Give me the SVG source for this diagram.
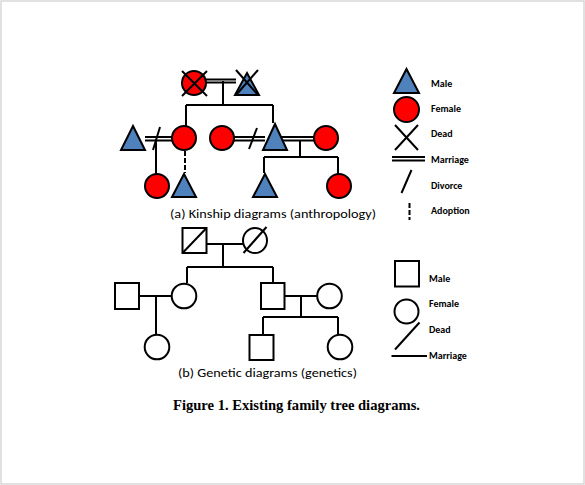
<svg xmlns="http://www.w3.org/2000/svg" width="585" height="485" viewBox="0 0 585 485">
<style>
.s{stroke:#000;stroke-width:2;fill:none}
.m{fill:#4F81BD;stroke:#000;stroke-width:2}
.f{fill:#FF0000;stroke:#000;stroke-width:2}
.w{fill:#fff;stroke:#000;stroke-width:2}
.ad{stroke-dasharray:5,2}
.lbl{font-family:Calibri,Carlito,"Open Sans","Liberation Sans",sans-serif;font-size:10px;font-weight:bold;fill:#000}
.cap{font-family:Carlito,Calibri,"Open Sans","Liberation Sans",sans-serif;font-size:13px;fill:#000}
.fig{font-family:"Liberation Serif","Times New Roman",serif;font-size:14px;font-weight:bold;fill:#000}
</style>
<rect x="1" y="1" width="583" height="483" fill="#fff" stroke="#d8d8d8" stroke-width="1.5"/>

<!-- (a) Kinship diagram -->
<g id="connectors-a">
  <path class="s" stroke-width="1.5" d="M206 79.5H236M206 82.5H236"/>
  <path class="s" d="M223 81V105M186 105H273M186 105V126M273 105V123"/>
  <path class="s" stroke-width="1.5" d="M145 137H173M145 140.5H173"/>
  <path class="s" d="M160 127L153 150"/>
  <path class="s" d="M156 139V174"/>
  <path class="s ad" d="M185 151V173"/>
  <path class="s" stroke-width="1.5" d="M233 137H265M233 140.5H265"/>
  <path class="s" d="M257 128L249 149"/>
  <path class="s" stroke-width="1.5" d="M281 137H315M281 140.5H315"/>
  <path class="s" d="M300 140V157M264 157H338M264 157V173M338 157V174"/>
</g>
<g id="a-gm">
  <circle class="f" cx="194" cy="83" r="12"/>
  <path class="s" d="M182 71L207 96M207 71L182 96"/>
</g>
<g id="a-gf">
  <polygon class="m" points="247,73 259,95 235,95"/>
  <path class="s" d="M236 70L258 95M258 70L236 95"/>
</g>
<g id="a-m1"><polygon class="m" points="133,126 145,150 121,150"/></g>
<g id="a-f1"><circle class="f" cx="184" cy="138" r="12"/></g>
<g id="a-f2"><circle class="f" cx="222" cy="138" r="12"/></g>
<g id="a-m2"><polygon class="m" points="275,124 287,150 263,150"/></g>
<g id="a-f3"><circle class="f" cx="326" cy="138" r="12"/></g>
<g id="a-c1"><circle class="f" cx="157" cy="186" r="12"/></g>
<g id="a-c2"><polygon class="m" points="184,174 196,197 172,197"/></g>
<g id="a-c3"><polygon class="m" points="265,174 277,197 253,197"/></g>
<g id="a-c4"><circle class="f" cx="339" cy="186" r="12"/></g>
<text class="cap" x="170" y="218" textLength="206" lengthAdjust="spacingAndGlyphs">(a) Kinship diagrams (anthropology)</text>

<!-- legend a -->
<g id="legend-a">
  <polygon class="m" points="406.5,69 419,93 394,93"/>
  <circle class="f" cx="406.5" cy="109.5" r="12.5"/>
  <path class="s" d="M395 125L418 150M418 125L395 150"/>
  <path class="s" stroke-width="1.5" d="M392 157H425M392 160.5H425"/>
  <path class="s" d="M411.5 170L401.5 193"/>
  <path class="s ad" d="M409.5 203V220"/>
  <text class="lbl" x="431" y="87">Male</text>
  <text class="lbl" x="431" y="112">Female</text>
  <text class="lbl" x="431" y="137">Dead</text>
  <text class="lbl" x="431" y="163">Marriage</text>
  <text class="lbl" x="431" y="189">Divorce</text>
  <text class="lbl" x="431" y="214">Adoption</text>
</g>

<!-- (b) Genetic diagram -->
<g id="connectors-b">
  <path class="s" d="M207 244H243M223 244V267M187 267H273M187 267V283M273 267V283"/>
  <path class="s" d="M139 296H172M156 296V335"/>
  <path class="s" d="M284 296H317M301 296V317M263 317H338M263 317V335M338 317V335"/>
</g>
<g id="b-gf">
  <rect class="w" x="182.5" y="228" width="24" height="25"/>
  <path class="s" d="M182.5 253L206.5 228"/>
</g>
<g id="b-gm">
  <ellipse class="w" cx="255" cy="240.5" rx="12" ry="12.5"/>
  <path class="s" d="M243.5 253L266.5 227"/>
</g>
<g id="b-m1"><rect class="w" x="115" y="283" width="24" height="26"/></g>
<g id="b-f1"><circle class="w" cx="184" cy="296" r="12.3"/></g>
<g id="b-m2"><rect class="w" x="261" y="283" width="23.5" height="26"/></g>
<g id="b-f2"><circle class="w" cx="329.5" cy="296" r="12.3"/></g>
<g id="b-c1"><circle class="w" cx="157" cy="347" r="12.3"/></g>
<g id="b-c2"><rect class="w" x="249.5" y="335" width="24" height="25"/></g>
<g id="b-c3"><circle class="w" cx="340" cy="347" r="12.3"/></g>
<text class="cap" x="178" y="377" textLength="179" lengthAdjust="spacingAndGlyphs">(b) Genetic diagrams (genetics)</text>

<!-- legend b -->
<g id="legend-b">
  <rect class="w" x="395" y="261" width="24" height="25.5"/>
  <circle class="w" cx="406.5" cy="311.5" r="12"/>
  <path class="s" d="M419.5 322.5L395 349.5"/>
  <path class="s" d="M391.5 356H427"/>
  <text class="lbl" x="429" y="282">Male</text>
  <text class="lbl" x="429" y="307">Female</text>
  <text class="lbl" x="429" y="333">Dead</text>
  <text class="lbl" x="429" y="359">Marriage</text>
</g>

<text class="fig" x="173" y="410" textLength="247" lengthAdjust="spacingAndGlyphs">Figure 1. Existing family tree diagrams.</text>
</svg>
